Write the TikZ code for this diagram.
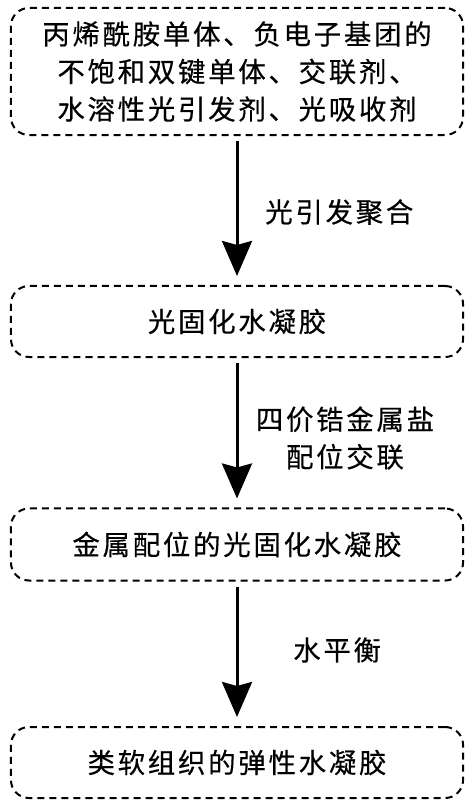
\documentclass[tikz,border=0pt]{standalone}
\usepackage{fontspec}
\setmainfont{Noto Sans CJK SC}[LetterSpace=10, FakeBold=0.4]
\usepackage{tikz}
\usetikzlibrary{arrows.meta}
\usetikzlibrary{positioning}
\tikzstyle{stepnode}=[black, draw=black, line width=0.05cm, dash pattern=on 0.175cm off 0.125cm, shape=rectangle, rounded corners=0.45cm, fill=white, minimum width=11.3cm, inner sep=0pt, align=center, font=\fontsize{19.5}{26.7}\selectfont]
\tikzstyle{labelnode}=[shape=rectangle, inner sep=0pt, align=center, font=\fontsize{19.5}{26.7}\selectfont]
\tikzstyle{flowarrow}=[-{Stealth[length=0.875cm, width=0.75cm, inset=0.1cm]}, line width=0.075cm, color=black, shorten <=0.125cm, shorten >=0.225cm]

\begin{document}
\begin{tikzpicture}[x=0.025cm, y=-0.025cm]
\useasboundingbox (0,0) rectangle (474,808);

\node [stepnode, minimum height=3.175cm] (raw) at (237,71.5) {丙烯酰胺单体、负电子基团的\\不饱和双键单体、交联剂、\\水溶性光引发剂、光吸收剂};
\node [stepnode, minimum height=1.775cm] (gel) at (237,321.5) {光固化水凝胶};
\node [stepnode, minimum height=1.8cm] (metalgel) at (237,544.5) {金属配位的光固化水凝胶};
\node [stepnode, minimum height=1.775cm] (softgel) at (237,762.5) {类软组织的弹性水凝胶};

\node [labelnode, anchor=west] (photo) at (265,212) {光引发聚合};
\node [labelnode] (zirc) at (345,438) {四价锆金属盐\\配位交联};
\node [labelnode, anchor=west] (swell) at (293,650) {水平衡};

\draw[flowarrow] (raw) -- (gel);
\draw[flowarrow] (gel) -- (metalgel);
\draw[flowarrow] (metalgel) -- (softgel);
\end{tikzpicture}
\end{document}
